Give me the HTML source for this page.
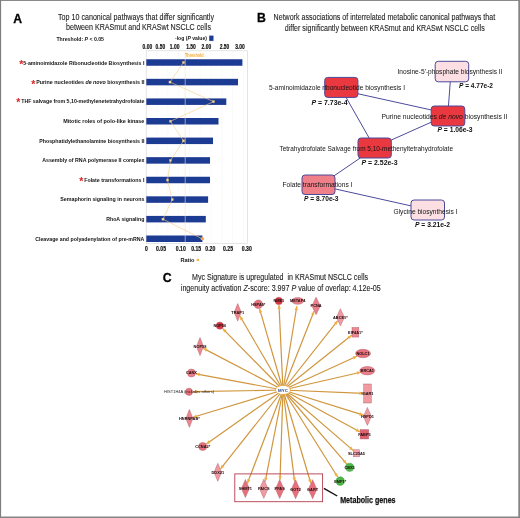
<!DOCTYPE html>
<html lang="en">
<head>
<meta charset="utf-8">
<title>Figure</title>
<style>
html,body{margin:0;padding:0;background:#fff;}
body{width:520px;height:518px;overflow:hidden;}
svg{display:block;font-family:"Liberation Sans",sans-serif;}
.t{font-size:9px;fill:#1c1c1c;stroke:#1c1c1c;stroke-width:0.1px;}
.b{font-weight:bold;}
.i{font-style:italic;}
.lab{font-size:5.9px;font-weight:bold;fill:#151515;}
.ax{font-size:6.5px;font-weight:bold;fill:#111;stroke:#111;stroke-width:0.18px;}
.nl{font-size:6.7px;fill:#141414;}
.pv{font-size:6.8px;font-weight:bold;fill:#111;}
.g{font-size:3.9px;font-weight:bold;fill:#1a0a0c;}
</style>
</head>
<body>
<svg width="520" height="518" viewBox="0 0 520 518">
<rect x="0" y="0" width="520" height="518" fill="#ffffff"/>
<defs><filter id="soft" x="-2%" y="-2%" width="104%" height="104%"><feGaussianBlur stdDeviation="0.35"/></filter></defs>
<g filter="url(#soft)">

<g id="panelA">
<text class="b" x="13.2" y="22.8" font-size="13.3px" fill="#000" stroke="#000" stroke-width="0.3" textLength="8.8" lengthAdjust="spacingAndGlyphs">A</text>
<text class="t" x="58" y="19.7" textLength="156" lengthAdjust="spacingAndGlyphs">Top 10 canonical pathways that differ significantly</text>
<text class="t" x="66" y="29.6" textLength="145" lengthAdjust="spacingAndGlyphs">between KRASmut and KRASwt NSCLC cells</text>
<text class="lab" x="56.4" y="40.5" textLength="47.6" lengthAdjust="spacingAndGlyphs" style="font-size:6px">Threshold: <tspan class="i">P</tspan> &lt; 0.05</text>
<text class="lab" x="175" y="40.4" textLength="32" lengthAdjust="spacingAndGlyphs" style="font-size:6px">-log (<tspan class="i">P</tspan> value)</text>
<rect x="209.2" y="35.6" width="4.3" height="5.3" fill="#1f3a93"/>
<text class="ax" x="147.4" y="48.5" textLength="9.6" lengthAdjust="spacingAndGlyphs" text-anchor="middle">0.00</text>
<text class="ax" x="160.4" y="48.5" textLength="9.6" lengthAdjust="spacingAndGlyphs" text-anchor="middle">0.50</text>
<text class="ax" x="174.6" y="48.5" textLength="9.6" lengthAdjust="spacingAndGlyphs" text-anchor="middle">1.00</text>
<text class="ax" x="191" y="48.5" textLength="9.6" lengthAdjust="spacingAndGlyphs" text-anchor="middle">1.50</text>
<text class="ax" x="206.4" y="48.5" textLength="9.6" lengthAdjust="spacingAndGlyphs" text-anchor="middle">2.00</text>
<text class="ax" x="224.5" y="48.5" textLength="9.6" lengthAdjust="spacingAndGlyphs" text-anchor="middle">2.50</text>
<text class="ax" x="240" y="48.5" textLength="9.6" lengthAdjust="spacingAndGlyphs" text-anchor="middle">3.00</text>
<rect x="146.2" y="50.8" width="101.2" height="192.7" fill="#fff" stroke="#d4d4d4" stroke-width="0.6"/>
<line x1="157.0" y1="51" x2="157.0" y2="243" stroke="#ececec" stroke-width="0.5" stroke-dasharray="1 1"/>
<line x1="167.8" y1="51" x2="167.8" y2="243" stroke="#ececec" stroke-width="0.5" stroke-dasharray="1 1"/>
<line x1="178.6" y1="51" x2="178.6" y2="243" stroke="#ececec" stroke-width="0.5" stroke-dasharray="1 1"/>
<line x1="189.4" y1="51" x2="189.4" y2="243" stroke="#ececec" stroke-width="0.5" stroke-dasharray="1 1"/>
<line x1="200.2" y1="51" x2="200.2" y2="243" stroke="#ececec" stroke-width="0.5" stroke-dasharray="1 1"/>
<line x1="211.0" y1="51" x2="211.0" y2="243" stroke="#ececec" stroke-width="0.5" stroke-dasharray="1 1"/>
<line x1="221.8" y1="51" x2="221.8" y2="243" stroke="#ececec" stroke-width="0.5" stroke-dasharray="1 1"/>
<line x1="232.6" y1="51" x2="232.6" y2="243" stroke="#ececec" stroke-width="0.5" stroke-dasharray="1 1"/>
<line x1="243.4" y1="51" x2="243.4" y2="243" stroke="#ececec" stroke-width="0.5" stroke-dasharray="1 1"/>
<rect x="146.3" y="59.25" width="96.10" height="6.5" fill="#1f3a93"/>
<rect x="146.3" y="78.83" width="91.70" height="6.5" fill="#1f3a93"/>
<rect x="146.3" y="98.42" width="80.00" height="6.5" fill="#1f3a93"/>
<rect x="146.3" y="118.00" width="72.20" height="6.5" fill="#1f3a93"/>
<rect x="146.3" y="137.58" width="66.70" height="6.5" fill="#1f3a93"/>
<rect x="146.3" y="157.16" width="63.70" height="6.5" fill="#1f3a93"/>
<rect x="146.3" y="176.75" width="63.70" height="6.5" fill="#1f3a93"/>
<rect x="146.3" y="196.33" width="61.80" height="6.5" fill="#1f3a93"/>
<rect x="146.3" y="215.91" width="59.50" height="6.5" fill="#1f3a93"/>
<rect x="146.3" y="235.50" width="56.10" height="6.5" fill="#1f3a93"/>
<line x1="185.2" y1="51" x2="185.2" y2="243" stroke="#fae6b8" stroke-width="0.6"/>
<text class="lab" x="185" y="56.8" textLength="18.5" lengthAdjust="spacingAndGlyphs" style="fill:#f0a830;font-size:6.2px">Threshold</text>
<polyline points="183.5,62.5 170,82.08 213.5,101.67 170.5,121.25 183.5,140.83 170.5,160.41 167.5,180.0 172.25,199.58 163,219.16 202,238.75" fill="none" stroke="#f5cf85" stroke-width="0.6"/>
<rect x="182.4" y="61.4" width="2.2" height="2.2" fill="#f3d9a0" stroke="#c9a860" stroke-width="0.3"/>
<rect x="168.9" y="80.98" width="2.2" height="2.2" fill="#f3d9a0" stroke="#c9a860" stroke-width="0.3"/>
<rect x="212.4" y="100.57000000000001" width="2.2" height="2.2" fill="#f3d9a0" stroke="#c9a860" stroke-width="0.3"/>
<rect x="169.4" y="120.15" width="2.2" height="2.2" fill="#f3d9a0" stroke="#c9a860" stroke-width="0.3"/>
<rect x="182.4" y="139.73000000000002" width="2.2" height="2.2" fill="#f3d9a0" stroke="#c9a860" stroke-width="0.3"/>
<rect x="169.4" y="159.31" width="2.2" height="2.2" fill="#f3d9a0" stroke="#c9a860" stroke-width="0.3"/>
<rect x="166.4" y="178.9" width="2.2" height="2.2" fill="#f3d9a0" stroke="#c9a860" stroke-width="0.3"/>
<rect x="171.15" y="198.48000000000002" width="2.2" height="2.2" fill="#f3d9a0" stroke="#c9a860" stroke-width="0.3"/>
<rect x="161.9" y="218.06" width="2.2" height="2.2" fill="#f3d9a0" stroke="#c9a860" stroke-width="0.3"/>
<rect x="200.9" y="237.65" width="2.2" height="2.2" fill="#f3d9a0" stroke="#c9a860" stroke-width="0.3"/>
<circle cx="202.6" cy="238.9" r="1.3" fill="#f2a43a"/>
<text class="lab" x="23.2" y="64.75" textLength="121.2" lengthAdjust="spacingAndGlyphs">5-aminoimidazole Ribonucleotide Biosynthesis I</text>
<text class="lab" x="19.3" y="68.2" style="fill:#e02020;font-size:10.5px">*</text>
<text class="lab" x="36.2" y="84.05" textLength="108.2" lengthAdjust="spacingAndGlyphs">Purine nucleotides <tspan class="i">de novo</tspan> biosynthesis II</text>
<text class="lab" x="31.3" y="87.5" style="fill:#e02020;font-size:10.5px">*</text>
<text class="lab" x="21.2" y="102.85" textLength="123.2" lengthAdjust="spacingAndGlyphs">THF salvage from 5,10-methylenetetrahydrofolate</text>
<text class="lab" x="16.3" y="106.3" style="fill:#e02020;font-size:10.5px">*</text>
<text class="lab" x="63.2" y="123.45" textLength="81.2" lengthAdjust="spacingAndGlyphs">Mitotic roles of polo-like kinase</text>
<text class="lab" x="39.2" y="142.95" textLength="105.2" lengthAdjust="spacingAndGlyphs">Phosphatidylethanolamine biosynthesis II</text>
<text class="lab" x="42.2" y="161.85" textLength="102.2" lengthAdjust="spacingAndGlyphs">Assembly of RNA polymerase II complex</text>
<text class="lab" x="84.2" y="181.95" textLength="60.2" lengthAdjust="spacingAndGlyphs">Folate transformations I</text>
<text class="lab" x="79.3" y="185.4" style="fill:#e02020;font-size:10.5px">*</text>
<text class="lab" x="60.2" y="200.95" textLength="84.2" lengthAdjust="spacingAndGlyphs">Semaphorin signaling in neurons</text>
<text class="lab" x="106.2" y="220.55" textLength="38.2" lengthAdjust="spacingAndGlyphs">RhoA signaling</text>
<text class="lab" x="35.2" y="241.15" textLength="109.2" lengthAdjust="spacingAndGlyphs">Cleavage and polyadenylation of pre-mRNA</text>
<text class="ax" x="146.3" y="250.7" textLength="2.8" lengthAdjust="spacingAndGlyphs" text-anchor="middle">0</text>
<text class="ax" x="161" y="250.7" textLength="10" lengthAdjust="spacingAndGlyphs" text-anchor="middle">0.05</text>
<text class="ax" x="180.8" y="250.7" textLength="10" lengthAdjust="spacingAndGlyphs" text-anchor="middle">0.10</text>
<text class="ax" x="196.2" y="250.7" textLength="10" lengthAdjust="spacingAndGlyphs" text-anchor="middle">0.15</text>
<text class="ax" x="210.3" y="250.7" textLength="10" lengthAdjust="spacingAndGlyphs" text-anchor="middle">0.20</text>
<text class="ax" x="228" y="250.7" textLength="10" lengthAdjust="spacingAndGlyphs" text-anchor="middle">0.25</text>
<text class="ax" x="246.8" y="250.7" textLength="10" lengthAdjust="spacingAndGlyphs" text-anchor="middle">0.30</text>
<text class="lab" x="180.4" y="261.6" textLength="14" lengthAdjust="spacingAndGlyphs" style="font-size:6.1px">Ratio</text>
<rect x="196.7" y="258.8" width="2.2" height="2.2" fill="#f6b040"/>
</g>
<g id="panelB">
<text class="b" x="256.9" y="22.2" font-size="12.3px" fill="#000" stroke="#000" stroke-width="0.3">B</text>
<text class="t" x="273.6" y="20.2" textLength="221.5" lengthAdjust="spacingAndGlyphs" style="font-size:8.8px">Network associations of interrelated metabolic canonical pathways that</text>
<text class="t" x="284.8" y="30.9" textLength="200" lengthAdjust="spacingAndGlyphs" style="font-size:8.8px">differ significantly between KRASmut and KRASwt NSCLC cells</text>
<line x1="350" y1="92" x2="445" y2="113" stroke="#4b4b9b" stroke-width="1.0"/>
<line x1="343" y1="92" x2="372" y2="143" stroke="#4b4b9b" stroke-width="1.0"/>
<line x1="451" y1="72" x2="448" y2="112" stroke="#4b4b9b" stroke-width="1.0"/>
<line x1="445" y1="116" x2="378" y2="146" stroke="#4b4b9b" stroke-width="1.0"/>
<line x1="372" y1="150" x2="322" y2="184" stroke="#4b4b9b" stroke-width="1.0"/>
<line x1="322" y1="186" x2="425" y2="209" stroke="#4b4b9b" stroke-width="1.0"/>
<rect x="324.7" y="77.4" width="33.2" height="20" rx="3" ry="3" fill="#ea383f" stroke="#4b4b9b" stroke-width="1"/>
<rect x="435.2" y="61.3" width="33.5" height="20.5" rx="3" ry="3" fill="#fbdfe3" stroke="#4b4b9b" stroke-width="1"/>
<rect x="431.2" y="106" width="33.6" height="20" rx="3" ry="3" fill="#ea383f" stroke="#4b4b9b" stroke-width="1"/>
<rect x="358" y="138" width="33.3" height="20" rx="3" ry="3" fill="#ea383f" stroke="#4b4b9b" stroke-width="1"/>
<rect x="302" y="175" width="33" height="19.5" rx="3" ry="3" fill="#ef7f88" stroke="#4b4b9b" stroke-width="1"/>
<rect x="411" y="200" width="33.5" height="20" rx="3" ry="3" fill="#fbdfe3" stroke="#4b4b9b" stroke-width="1"/>
<text class="nl" x="269" y="90" textLength="136" lengthAdjust="spacingAndGlyphs">5-aminoimidazole ribonucleotide biosynthesis I</text>
<text class="nl" x="397.5" y="73.5" textLength="105" lengthAdjust="spacingAndGlyphs">Inosine-5&#39;-phosphate biosynthesis II</text>
<text class="nl" x="381.5" y="118.5" textLength="126" lengthAdjust="spacingAndGlyphs">Purine nucleotides <tspan class="i">de novo</tspan> biosynthesis II</text>
<text class="nl" x="279.5" y="150.5" textLength="173.5" lengthAdjust="spacingAndGlyphs">Tetrahydrofolate Salvage from 5,10-methenyltetrahydrofolate</text>
<text class="nl" x="282.5" y="187" textLength="70" lengthAdjust="spacingAndGlyphs">Folate transformations I</text>
<text class="nl" x="393.5" y="213.5" textLength="64" lengthAdjust="spacingAndGlyphs">Glycine biosynthesis I</text>
<text class="pv" x="311.5" y="104.5" textLength="36" lengthAdjust="spacingAndGlyphs"><tspan class="i">P</tspan> = 7.73e-4</text>
<text class="pv" x="459" y="87.5" textLength="34" lengthAdjust="spacingAndGlyphs"><tspan class="i">P</tspan> = 4.77e-2</text>
<text class="pv" x="437.5" y="131.5" textLength="35" lengthAdjust="spacingAndGlyphs"><tspan class="i">P</tspan> = 1.06e-3</text>
<text class="pv" x="361.5" y="165.2" textLength="36" lengthAdjust="spacingAndGlyphs"><tspan class="i">P</tspan> = 2.52e-3</text>
<text class="pv" x="304" y="200.5" textLength="34.5" lengthAdjust="spacingAndGlyphs"><tspan class="i">P</tspan> = 8.70e-3</text>
<text class="pv" x="415" y="227" textLength="35" lengthAdjust="spacingAndGlyphs"><tspan class="i">P</tspan> = 3.21e-2</text>
</g>
<g id="panelC">
<text class="b" x="162.8" y="282.1" font-size="12.3px" fill="#000" stroke="#000" stroke-width="0.3">C</text>
<text class="t" x="192" y="280" textLength="176" lengthAdjust="spacingAndGlyphs" xml:space="preserve" style="font-size:8.2px">Myc Signature is upregulated  in KRASmut NSCLC cells</text>
<text class="t" x="180.8" y="290.6" textLength="200" lengthAdjust="spacingAndGlyphs" style="font-size:8.2px">ingenuity activation <tspan class="i">Z</tspan>-score: 3.997 <tspan class="i">P</tspan> value of overlap: 4.12e-05</text>
<line x1="283" y1="390" x2="259.63" y2="308.91" stroke="#d0963e" stroke-width="1.2"/>
<polygon points="259.63,308.91 262.36,312.08 259.00,313.05" fill="#f2b040"/>
<line x1="283" y1="390" x2="279.00" y2="305.10" stroke="#d0963e" stroke-width="1.2"/>
<polygon points="279.00,305.10 280.92,308.81 277.43,308.97" fill="#f2b040"/>
<line x1="283" y1="390" x2="296.82" y2="306.23" stroke="#d0963e" stroke-width="1.2"/>
<polygon points="296.82,306.23 297.93,310.26 294.48,309.69" fill="#f2b040"/>
<line x1="283" y1="390" x2="314.02" y2="311.17" stroke="#d0963e" stroke-width="1.2"/>
<polygon points="314.02,311.17 314.26,315.35 311.00,314.07" fill="#f2b040"/>
<line x1="283" y1="390" x2="337.58" y2="320.87" stroke="#d0963e" stroke-width="1.2"/>
<polygon points="337.58,320.87 336.60,324.93 333.86,322.76" fill="#f2b040"/>
<line x1="283" y1="390" x2="351.61" y2="335.32" stroke="#d0963e" stroke-width="1.2"/>
<polygon points="351.61,335.32 349.73,339.06 347.55,336.32" fill="#f2b040"/>
<line x1="283" y1="390" x2="356.86" y2="356.30" stroke="#d0963e" stroke-width="1.2"/>
<polygon points="356.86,356.30 354.13,359.47 352.68,356.29" fill="#f2b040"/>
<line x1="283" y1="390" x2="360.72" y2="372.21" stroke="#d0963e" stroke-width="1.2"/>
<polygon points="360.72,372.21 357.41,374.76 356.63,371.35" fill="#f2b040"/>
<line x1="283" y1="390" x2="363.25" y2="393.32" stroke="#d0963e" stroke-width="1.2"/>
<polygon points="363.25,393.32 359.38,394.92 359.53,391.42" fill="#f2b040"/>
<line x1="283" y1="390" x2="363.41" y2="415.15" stroke="#d0963e" stroke-width="1.2"/>
<polygon points="363.41,415.15 359.26,415.69 360.31,412.35" fill="#f2b040"/>
<line x1="283" y1="390" x2="359.66" y2="431.72" stroke="#d0963e" stroke-width="1.2"/>
<polygon points="359.66,431.72 355.49,431.44 357.16,428.37" fill="#f2b040"/>
<line x1="283" y1="390" x2="353.12" y2="450.39" stroke="#d0963e" stroke-width="1.2"/>
<polygon points="353.12,450.39 349.10,449.24 351.38,446.58" fill="#f2b040"/>
<line x1="283" y1="390" x2="346.60" y2="463.82" stroke="#d0963e" stroke-width="1.2"/>
<polygon points="346.60,463.82 342.79,462.08 345.44,459.79" fill="#f2b040"/>
<line x1="283" y1="390" x2="337.65" y2="477.03" stroke="#d0963e" stroke-width="1.2"/>
<polygon points="337.65,477.03 334.14,474.75 337.11,472.89" fill="#f2b040"/>
<line x1="283" y1="390" x2="310.76" y2="483.02" stroke="#d0963e" stroke-width="1.2"/>
<polygon points="310.76,483.02 307.99,479.88 311.35,478.88" fill="#f2b040"/>
<line x1="283" y1="390" x2="294.60" y2="481.30" stroke="#d0963e" stroke-width="1.2"/>
<polygon points="294.60,481.30 292.38,477.76 295.85,477.31" fill="#f2b040"/>
<line x1="283" y1="390" x2="280.01" y2="479.66" stroke="#d0963e" stroke-width="1.2"/>
<polygon points="280.01,479.66 278.39,475.80 281.89,475.92" fill="#f2b040"/>
<line x1="283" y1="390" x2="265.18" y2="481.69" stroke="#d0963e" stroke-width="1.2"/>
<polygon points="265.18,481.69 264.19,477.62 267.63,478.29" fill="#f2b040"/>
<line x1="283" y1="390" x2="247.43" y2="483.19" stroke="#d0963e" stroke-width="1.2"/>
<polygon points="247.43,483.19 247.15,479.02 250.42,480.27" fill="#f2b040"/>
<line x1="283" y1="390" x2="220.57" y2="468.81" stroke="#d0963e" stroke-width="1.2"/>
<polygon points="220.57,468.81 221.56,464.74 224.30,466.91" fill="#f2b040"/>
<line x1="283" y1="390" x2="206.38" y2="443.91" stroke="#d0963e" stroke-width="1.2"/>
<polygon points="206.38,443.91 208.48,440.29 210.50,443.16" fill="#f2b040"/>
<line x1="283" y1="390" x2="193.01" y2="417.30" stroke="#d0963e" stroke-width="1.2"/>
<polygon points="193.01,417.30 196.14,414.53 197.15,417.88" fill="#f2b040"/>
<line x1="283" y1="390" x2="193.10" y2="391.72" stroke="#d0963e" stroke-width="1.2"/>
<polygon points="193.10,391.72 196.87,389.90 196.93,393.40" fill="#f2b040"/>
<line x1="283" y1="390" x2="195.82" y2="373.82" stroke="#d0963e" stroke-width="1.2"/>
<polygon points="195.82,373.82 199.88,372.79 199.24,376.24" fill="#f2b040"/>
<line x1="283" y1="390" x2="203.35" y2="348.35" stroke="#d0963e" stroke-width="1.2"/>
<polygon points="203.35,348.35 207.53,348.56 205.91,351.66" fill="#f2b040"/>
<line x1="283" y1="390" x2="222.67" y2="328.62" stroke="#d0963e" stroke-width="1.2"/>
<polygon points="222.67,328.62 226.59,330.11 224.09,332.56" fill="#f2b040"/>
<line x1="283" y1="390" x2="240.03" y2="316.29" stroke="#d0963e" stroke-width="1.2"/>
<polygon points="240.03,316.29 243.45,318.69 240.43,320.46" fill="#f2b040"/>
<circle cx="258.3" cy="304.3" r="4.3" fill="#e5727b" stroke="#b05a6a" stroke-width="0.45"/>
<circle cx="278.8" cy="300.9" r="3.7" fill="#dc353f" stroke="#b05a6a" stroke-width="0.45"/>
<ellipse cx="297.7" cy="300.9" rx="6" ry="3.4" fill="#ea8089" stroke="#b05a6a" stroke-width="0.45"/>
<polygon points="316.1,297.15 320.3,305.9 316.1,314.65 311.90000000000003,305.9" fill="#ea8089" stroke="#b05a6a" stroke-width="0.45"/>
<polygon points="340.4,308.8 344.4,317.3 340.4,325.8 336.4,317.3" fill="#f09aa2" stroke="#b05a6a" stroke-width="0.45"/>
<rect x="352.0" y="327.55" width="6.8" height="9.5" fill="#ec8891" stroke="#b05a6a" stroke-width="0.45"/>
<ellipse cx="363" cy="353.5" rx="7.5" ry="4.2" fill="#e5727b" stroke="#b05a6a" stroke-width="0.45"/>
<ellipse cx="367.3" cy="370.7" rx="7.5" ry="4.2" fill="#ea8089" stroke="#b05a6a" stroke-width="0.45"/>
<rect x="363.75" y="384.0" width="7.5" height="19" fill="#f09aa2" stroke="#b05a6a" stroke-width="0.45"/>
<polygon points="367.4,407.4 371.4,416.4 367.4,425.4 363.4,416.4" fill="#f09aa2" stroke="#b05a6a" stroke-width="0.45"/>
<rect x="360.09999999999997" y="429.65000000000003" width="8.6" height="9.3" fill="#e0626e" stroke="#b05a6a" stroke-width="0.45"/>
<rect x="353.5" y="449.8" width="6" height="7" fill="#f3a8b0" stroke="#b05a6a" stroke-width="0.45"/>
<circle cx="349.6" cy="467.3" r="4.1" fill="#4fb848" stroke="#2e8a2e" stroke-width="0.4"/>
<circle cx="340.2" cy="481.1" r="4.3" fill="#4fb848" stroke="#2e8a2e" stroke-width="0.4"/>
<polygon points="312.6,479.7 316.85,489.2 312.6,498.7 308.35,489.2" fill="#e6717b" stroke="#b05a6a" stroke-width="0.45"/>
<polygon points="295.6,479.7 299.85,489.2 295.6,498.7 291.35,489.2" fill="#e6717b" stroke="#b05a6a" stroke-width="0.45"/>
<polygon points="279.7,479.5 283.95,489 279.7,498.5 275.45,489" fill="#e6717b" stroke="#b05a6a" stroke-width="0.45"/>
<polygon points="263.8,479.3 268.05,488.8 263.8,498.3 259.55,488.8" fill="#f09aa2" stroke="#b05a6a" stroke-width="0.45"/>
<polygon points="245.4,479.5 249.4,488.5 245.4,497.5 241.4,488.5" fill="#e6717b" stroke="#b05a6a" stroke-width="0.45"/>
<polygon points="217.8,463.3 221.55,472.3 217.8,481.3 214.05,472.3" fill="#f09aa2" stroke="#b05a6a" stroke-width="0.45"/>
<circle cx="202.7" cy="446.5" r="4" fill="#e5727b" stroke="#b05a6a" stroke-width="0.45"/>
<polygon points="189.4,409.4 192.9,418.4 189.4,427.4 185.9,418.4" fill="#ec8891" stroke="#b05a6a" stroke-width="0.45"/>
<circle cx="189" cy="391.8" r="3.6" fill="#e5727b" stroke="#b05a6a" stroke-width="0.45"/>
<circle cx="191.4" cy="373" r="4" fill="#ea8089" stroke="#b05a6a" stroke-width="0.45"/>
<polygon points="200,337.6 203.5,346.6 200,355.6 196.5,346.6" fill="#ec8891" stroke="#b05a6a" stroke-width="0.45"/>
<circle cx="219.8" cy="325.7" r="3.6" fill="#dc353f" stroke="#b05a6a" stroke-width="0.45"/>
<polygon points="237.7,303.55 241.2,312.3 237.7,321.05 234.2,312.3" fill="#ec8891" stroke="#b05a6a" stroke-width="0.45"/>
<text class="g" x="258.3" y="305.7" text-anchor="middle">HSPA9*</text>
<text class="g" x="278.8" y="302.3" text-anchor="middle">NME1</text>
<text class="g" x="297.7" y="302.3" text-anchor="middle">METAP4</text>
<text class="g" x="316.1" y="307.3" text-anchor="middle">PCNA</text>
<text class="g" x="340.4" y="318.7" text-anchor="middle">ABCE1*</text>
<text class="g" x="355.4" y="333.7" text-anchor="middle">EIF4A1*</text>
<text class="g" x="363" y="354.9" text-anchor="middle">NOLC1</text>
<text class="g" x="367.3" y="372.1" text-anchor="middle">BRCA1</text>
<text class="g" x="367.5" y="394.9" text-anchor="middle">IGAR1</text>
<text class="g" x="367.4" y="417.8" text-anchor="middle">HSPD1</text>
<text class="g" x="364.4" y="435.7" text-anchor="middle">FABP5</text>
<text class="g" x="356.5" y="454.7" text-anchor="middle">SLC25A5</text>
<text class="g" x="349.6" y="468.7" text-anchor="middle">CBX5</text>
<text class="g" x="340.2" y="482.5" text-anchor="middle">EMP1*</text>
<text class="g" x="312.6" y="490.6" text-anchor="middle">GART</text>
<text class="g" x="295.6" y="490.6" text-anchor="middle">GOT2</text>
<text class="g" x="279.7" y="490.4" text-anchor="middle">PFAS</text>
<text class="g" x="263.8" y="490.2" text-anchor="middle">PAICS</text>
<text class="g" x="245.4" y="489.9" text-anchor="middle">SHMT1</text>
<text class="g" x="217.8" y="473.7" text-anchor="middle">DDX21</text>
<text class="g" x="202.7" y="447.9" text-anchor="middle">CCNA2*</text>
<text class="g" x="189.4" y="419.8" text-anchor="middle">HNRNPAB*</text>
<text class="g" x="164" y="393.3" textLength="50" lengthAdjust="spacingAndGlyphs" style="font-weight:normal;font-size:4.4px;fill:#222">HIST1H4A (includes others)</text>
<text class="g" x="191.4" y="374.4" text-anchor="middle">CANX</text>
<text class="g" x="200" y="348.0" text-anchor="middle">NOP58</text>
<text class="g" x="219.8" y="327.1" text-anchor="middle">NOP56</text>
<text class="g" x="237.7" y="313.7" text-anchor="middle">TRAP1</text>
<ellipse cx="283" cy="390" rx="7.5" ry="4.6" fill="#ffffff" stroke="#eba030" stroke-width="0.7"/>
<text class="g" x="283" y="391.6" text-anchor="middle" style="fill:#203a80;font-weight:bold;font-size:4.4px">MYC</text>
<rect x="234.8" y="473.9" width="87.8" height="27.8" fill="none" stroke="#b43c4c" stroke-width="0.9"/>
<line x1="323.9" y1="488.4" x2="337.2" y2="496" stroke="#111" stroke-width="1.4"/>
<text class="b" x="340.2" y="503" textLength="55.4" lengthAdjust="spacingAndGlyphs" font-size="9.2px" fill="#111" stroke="#111" stroke-width="0.25">Metabolic genes</text>
</g>
</g>
<rect x="0" y="0" width="520" height="0.9" fill="#7d7d7d"/>
<rect x="0" y="0" width="1.1" height="518" fill="#7d7d7d"/>
<rect x="0" y="516.5" width="520" height="1.5" fill="#858585"/>
<rect x="518.3" y="0" width="1.7" height="518" fill="#858585"/>
</svg>
</body>
</html>
